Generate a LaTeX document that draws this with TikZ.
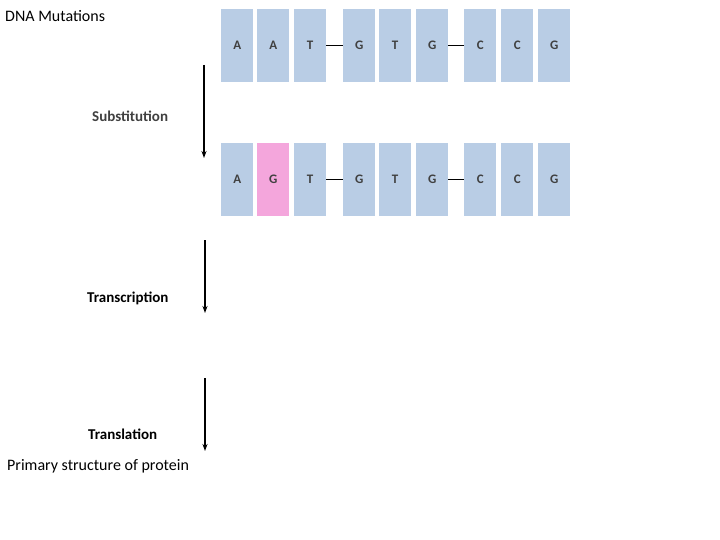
\documentclass[tikz,border=0pt]{standalone}
\usepackage{fontspec}
\setmainfont{Carlito}
\usetikzlibrary{arrows.meta}
\begin{document}
\begin{tikzpicture}[x=1pt,y=-1pt,
  base/.style={fill=bbox, minimum width=32pt, minimum height=73pt, inner sep=0pt, anchor=north west, text=darkletter, font=\fontsize{13}{13}\selectfont\bfseries},
  lbl/.style={font=\fontsize{15}{15}\selectfont\bfseries, inner sep=0pt},
  arr/.style={-{Stealth[length=7pt,width=5pt]}, line width=1.5pt}]
\definecolor{bbox}{HTML}{B9CDE5}
\definecolor{pinkbox}{HTML}{F4A6DC}
\definecolor{darkletter}{HTML}{404040}
\useasboundingbox (0,0) rectangle (720,540);
\foreach \x/\l [count=\i] in {221/A,257/A,294/T,343/G,379/T,416/G,464/C,501/C,538/G}
  \node[base] (t\i) at (\x,9) {\l};
\foreach \x/\l [count=\i] in {221/A,257/G,294/T,343/G,379/T,416/G,464/C,501/C,538/G}
  \node[base] (b\i) at (\x,143) {\l};
\node[base, fill=pinkbox] at (257,143) {G};
\draw[line width=1.2pt] (t3.east) -- (t4.west);
\draw[line width=1.2pt] (t6.east) -- (t7.west);
\draw[line width=1.2pt] (b3.east) -- (b4.west);
\draw[line width=1.2pt] (b6.east) -- (b7.west);
\node[lbl, anchor=west, font=\fontsize{16}{16}\selectfont] (title) at (5,16) {DNA Mutations};
\coordinate (s1) at (204,65); \coordinate (s2) at (204,158);
\draw[arr] (s1) -- (s2);
\node[lbl, anchor=west, text=darkletter] (sub) at (92,116) {Substitution};
\coordinate (r1) at (205,240); \coordinate (r2) at (205,313);
\draw[arr] (r1) -- (r2);
\node[lbl, anchor=west] (tr) at (87,298) {Transcription};
\coordinate (l1) at (205,378); \coordinate (l2) at (205,451);
\draw[arr] (l1) -- (l2);
\node[lbl, anchor=west] (tl) at (88,434) {Translation};
\node[lbl, anchor=west, font=\fontsize{16}{16}\selectfont] (ps) at (7,466) {Primary structure of protein};
\end{tikzpicture}
\end{document}
